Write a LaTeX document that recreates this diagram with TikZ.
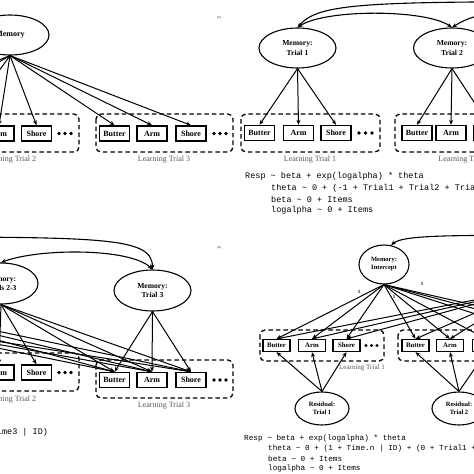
\documentclass[tikz,border=0pt]{standalone}
\usepackage{fontspec}
\setmainfont{Liberation Serif}
\newfontfamily\codefont{Liberation Mono}
\usetikzlibrary{arrows.meta,shapes.geometric}
\begin{document}
\begin{tikzpicture}[x=1pt,y=-1pt,
 mem/.style={ellipse,draw,line width=1.1pt,minimum width=77pt,minimum height=40pt,inner sep=0pt,align=center,font=\fontsize{7.6}{9.5}\selectfont\bfseries},
 item/.style={rectangle,draw,line width=1.4pt,minimum width=30pt,minimum height=15pt,inner sep=0pt,font=\fontsize{8}{8}\selectfont\bfseries},
 itemd/.style={item,line width=1.2pt,minimum height=12pt,minimum width=27pt,font=\fontsize{6.8}{7}\selectfont\bfseries},
 grp/.style={draw,line width=1.3pt,rounded corners=5pt,dash pattern=on 4.5pt off 3pt},
 lab/.style={inner sep=0pt,font=\fontsize{8}{9}\selectfont,text=black!65},
 arr/.style={-{Stealth[length=5pt,width=4pt]},line width=1pt},
 darr/.style={{Stealth[length=5pt,width=4pt]}-{Stealth[length=5pt,width=4pt]},line width=1.1pt},
 code/.style={anchor=west,inner sep=0pt,font=\codefont\fontsize{8.5}{10}\selectfont},
 coded/.style={code,font=\codefont\fontsize{7.7}{9}\selectfont},
 one/.style={inner sep=0pt,font=\fontsize{5}{5}\selectfont\bfseries},
 tag/.style={inner sep=0pt,font=\fontsize{3}{3}\selectfont},
]
\useasboundingbox (0,0) rectangle (474,474);
\clip (0,0) rectangle (474,474);
\fill[white] (0,0) rectangle (474,474);

% ---------------- panel (a) ----------------
\node[mem,minimum width=78pt,font=\fontsize{8}{9.5}\selectfont\bfseries] (aM) at (10,35) {Memory};
\node[item] (a2B) at (-40,133.5) {Butter};
\node[item] (a2A) at (-1,133.5) {Arm};
\node[item] (a2S) at (36.5,133.5) {Shore};
\node[item] (a3B) at (114.5,133.5) {Butter};
\node[item] (a3A) at (152,133.5) {Arm};
\node[item] (a3S) at (191,133.5) {Shore};
\foreach \x in {59,65,71,214,220,226} \fill (\x,133.5) circle (1.8pt);
\draw[grp] (-80,114) rectangle (79,152);
\draw[grp] (96,114) rectangle (233,152);
\node[lab] (aL2) at (10,159.5) {Learning Trial 2};
\node[lab] (aL3) at (164,159.5) {Learning Trial 3};
\coordinate (a1x) at (-110,126);
\coordinate (a1y) at (-160,126);
\foreach \t in {a2B,a2A,a2S,a3B,a3A,a3S} \draw[arr] (aM.south) -- (\t.north);
\draw[arr] (aM.south) -- (a1x);
\draw[arr] (aM.south) -- (a1y);
\node[tag] (tb) at (219,18) {(b)};

% ---------------- panel (b) ----------------
\node[mem] (bM1) at (297.5,48) {Memory:\\Trial 1};
\node[mem] (bM2) at (452,48) {Memory:\\Trial 2};
\node[item] (b1B) at (259.5,133) {Butter};
\node[item] (b1A) at (298.5,133) {Arm};
\node[item] (b1S) at (336,133) {Shore};
\node[item] (b2B) at (417,133) {Butter};
\node[item] (b2A) at (451,133) {Arm};
\node[item] (b2S) at (489,133) {Shore};
\foreach \x in {359,365.5,372} \fill (\x,133) circle (1.8pt);
\draw[grp] (241,114) rectangle (380,152);
\draw[grp] (395,114) rectangle (534,152);
\node[lab] (bL1) at (310,159.5) {Learning Trial 1};
\node[lab] (bL2) at (464.5,159.5) {Learning Trial 2};
\foreach \t in {b1B,b1A,b1S} \draw[arr] (bM1.south) -- (\t.north);
\foreach \t in {b2B,b2A,b2S} \draw[arr] (bM2.south) -- (\t.north);
\coordinate (bT3) at (600,2);
\coordinate (bT3b) at (560,6);
\draw[darr] (bM1.north) .. controls (325,9) and (425,9) .. (bM2.north);
\draw[darr] (bM1.north) .. controls (318,4) and (360,1) .. (bT3);
\draw[darr] (bM2.north) .. controls (470,16) and (490,10) .. (bT3b);
\node[code] (bc1) at (245,176) {Resp \textasciitilde{} beta + exp(logalpha) * theta};
\node[code] (bc2) at (271,188) {theta \textasciitilde{} 0 + (-1 + Trial1 + Trial2 + Trial3 | ID)};
\node[code] (bc3) at (271,199) {beta \textasciitilde{} 0 + Items};
\node[code] (bc4) at (271,210) {logalpha \textasciitilde{} 0 + Items};

% ---------------- panel (c) ----------------
\node[mem,minimum width=74pt,minimum height=41pt] (cM23) at (1,283.5) {Memory:\\Trials 2-3};
\node[mem,minimum height=41pt] (cM3) at (152.5,290.5) {Memory:\\Trial 3};
\node[item] (c2B) at (-40,372.5) {Butter};
\node[item] (c2A) at (-1,372.5) {Arm};
\node[item] (c2S) at (36.5,372.5) {Shore};
\node[item] (c3B) at (114.5,380) {Butter};
\node[item] (c3A) at (152,380) {Arm};
\node[item] (c3S) at (191,380) {Shore};
\foreach \x in {59,65,71} \fill (\x,372.5) circle (1.8pt);
\foreach \x in {214,220,226} \fill (\x,380) circle (1.8pt);
\draw[grp] (-80,353) rectangle (79,391);
\draw[grp] (96,360) rectangle (233,398);
\node[lab] (cL2) at (10,399.5) {Learning Trial 2};
\node[lab] (cL3) at (164,405.5) {Learning Trial 3};
\foreach \t in {c3B,c3A,c3S} \draw[arr] (cM3.south) -- (\t.north);
\foreach \t in {c2A,c2S,c3B,c3A,c3S} \draw[arr] (cM23.south) -- (\t.north);
\coordinate (cM1) at (-150,300);
\foreach \t in {c3B,c3A,c3S} \draw[arr] (cM1) -- (\t.north);
\coordinate (cM1b) at (-150,318);
\foreach \t in {c3B,c3A,c3S} \draw[arr] (cM1b) -- (\t.north);
\coordinate (cTop) at (-150,237);
\draw[darr] (cM23.north) .. controls (40,248) and (130,248) .. (cM3.north);
\draw[darr] (cTop) .. controls (100,237) and (152,236) .. (cM3.north);
\node[code] (cc) at (-8.3,432) {Time3 | ID)};
\node[tag] (td) at (219,248) {(d)};

% ---------------- panel (d) ----------------
\node[mem,minimum width=50pt,minimum height=39pt,font=\fontsize{6.5}{8}\selectfont\bfseries] (dMI) at (384,264.5) {Memory:\\Intercept};
\node[itemd] (d1B) at (276.5,345.5) {Butter};
\node[itemd] (d1A) at (312,345.5) {Arm};
\node[itemd] (d1S) at (346.5,345.5) {Shore};
\node[itemd] (d2B) at (415.5,345.5) {Butter};
\node[itemd] (d2A) at (450,345.5) {Arm};
\node[itemd] (d2S) at (486,345.5) {Shore};
\foreach \x in {366,371.5,377} \fill (\x,345.5) circle (1.7pt);
\draw[grp] (260,330) rectangle (384,361);
\draw[grp] (398,330) rectangle (530,361);
\node[lab,font=\fontsize{7}{8}\selectfont,fill=white,inner sep=0.5pt] (dL1) at (362,368) {Learning Trial 1};
\node[mem,minimum width=54pt,minimum height=33pt,font=\fontsize{6.5}{8}\selectfont\bfseries] (dR1) at (322,408.5) {Residual:\\Trial 1};
\node[mem,minimum width=54pt,minimum height=33pt,font=\fontsize{6.5}{8}\selectfont\bfseries] (dR2) at (459,408.5) {Residual:\\Trial 2};
\foreach \t in {d1B,d1A,d1S} \draw[arr] (dR1.north) -- (\t.south);
\foreach \t in {d2B,d2A,d2S} \draw[arr] (dR2.north) -- (\t.south);
\coordinate (d3B) at (555,339.5);
\coordinate (d3A) at (590,339.5);
\coordinate (d3S) at (625,339.5);
\foreach \t in {d1B,d1A,d1S,d2B,d2A,d2S} \draw[arr] (dMI.south) -- (\t.north);
\foreach \t in {d3B,d3A,d3S} \draw[arr] (dMI.south) -- (\t);
\coordinate (dMS) at (530,289);
\foreach \t in {d1B,d1A,d1S,d2B,d2A,d2S} \draw[arr] (dMS) -- (\t.north);
\node[one] (o1) at (359,292) {1};
\node[one] (o2) at (394,296.5) {1};
\node[one] (o3) at (422,284) {1};
\coordinate (dArc) at (560,236);
\draw[darr] (dArc) .. controls (440,234.5) and (402,236) .. (dMI.70);
\node[coded] (dc1) at (244,439) {Resp \textasciitilde{} beta + exp(logalpha) * theta};
\node[coded] (dc2) at (268,449) {theta \textasciitilde{} 0 + (1 + Time.n | ID) + (0 + Trial1 + Trial2 | ID)};
\node[coded] (dc3) at (268,459) {beta \textasciitilde{} 0 + Items};
\node[coded] (dc4) at (268,468.5) {logalpha \textasciitilde{} 0 + Items};
\end{tikzpicture}
\end{document}
